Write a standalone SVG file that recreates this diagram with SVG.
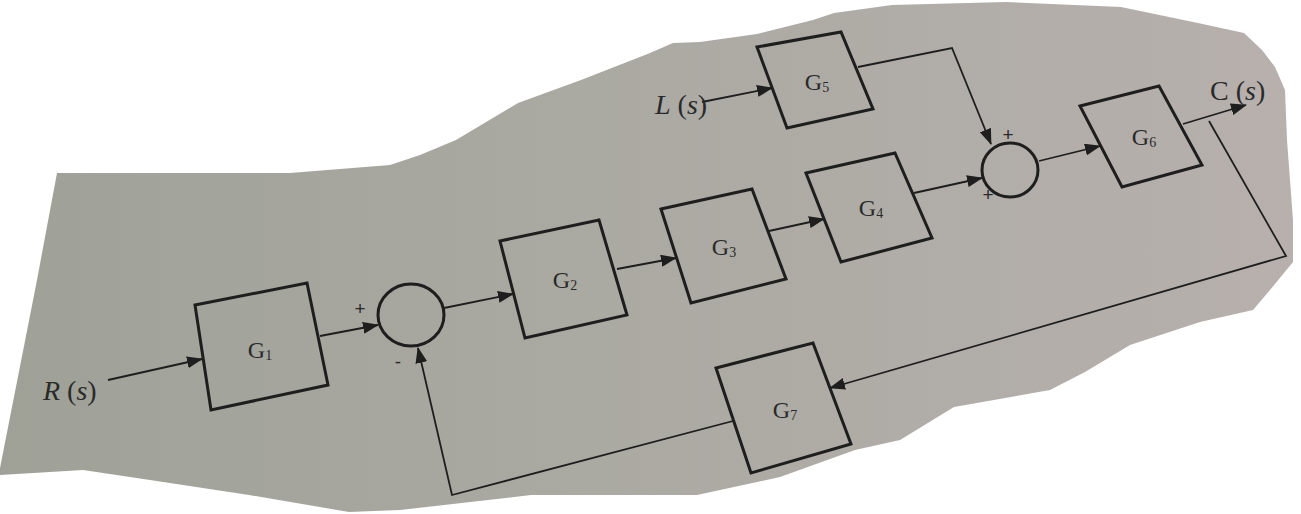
<svg xmlns="http://www.w3.org/2000/svg" width="1301" height="514" viewBox="0 0 1301 514">
<defs>
<linearGradient id="paper" x1="0" y1="0" x2="1" y2="0">
<stop offset="0" stop-color="#9fa197"/>
<stop offset="0.45" stop-color="#aaa9a2"/>
<stop offset="1" stop-color="#b7b0ad"/>
</linearGradient>
<marker id="arr" markerUnits="userSpaceOnUse" markerWidth="16" markerHeight="12" refX="15" refY="6" orient="auto">
<path d="M0,0 L16,6 L0,12 Z" fill="#1e1e1e"/>
</marker>
<style>
.box{fill:none;stroke:#1e1e1e;stroke-width:3;stroke-linejoin:miter}
.sum{fill:none;stroke:#1e1e1e;stroke-width:3}
.wire{fill:none;stroke:#1e1e1e;stroke-width:1.8}
.lbl{font-family:"Liberation Serif",serif;font-size:24px;fill:#2a2a2a;text-anchor:middle}
.sub{font-size:14px}
.sig{font-family:"Liberation Serif",serif;font-size:28px;fill:#2a2a2a}
.pm{font-family:"Liberation Sans",sans-serif;font-size:19px;fill:#2a2a2a;text-anchor:middle}
</style>
</defs>
<rect width="1301" height="514" fill="#ffffff"/>
<path id="paper-sheet" fill="url(#paper)" d="M57,173 L290,173 L390,165 L420,155 L456,140 L518,103 L581,80 L650,53 L673,43 L700,42 L757,34 L813,20 L834,13 L892,5 L1006,2 L1121,7 L1198,23 L1244,33 L1262,50 L1275,67 L1285,90 L1287,140 L1293,220 L1293,262 L1270,290 L1253,310 L1200,322 L1130,345 L1085,372 L1050,390 L954,407 L900,440 L855,450 L780,477 L697,495 L531,495 L400,510 L349,512 L249,495 L150,480 L83,470 L0,475 L0,468 L37,280 Z"/>

<g id="connectors">
<path class="wire" marker-end="url(#arr)" d="M108,380 L202,359"/>
<path class="wire" marker-end="url(#arr)" d="M320,336 L378,325"/>
<path class="wire" marker-end="url(#arr)" d="M444,308 L513,294"/>
<path class="wire" marker-end="url(#arr)" d="M617,269 L676,258"/>
<path class="wire" marker-end="url(#arr)" d="M769,231 L824,219"/>
<path class="wire" marker-end="url(#arr)" d="M914,193 L982,178"/>
<path class="wire" marker-end="url(#arr)" d="M702,102 L772,88"/>
<path class="wire" marker-end="url(#arr)" d="M858,67 L952,48 L991,144"/>
<path class="wire" marker-end="url(#arr)" d="M1039,161 L1100,146"/>
<path class="wire" marker-end="url(#arr)" d="M1183,124 L1246,105"/>
<path class="wire" marker-end="url(#arr)" d="M1209,121 L1286,256 L830,388"/>
<path class="wire" marker-end="url(#arr)" d="M733,421 L452,495 L418,348"/>
</g>

<g id="G1"><polygon class="box" points="195,305 307,283 328,385 211,410"/><text class="lbl" x="260" y="358">G<tspan class="sub" dy="2">1</tspan></text></g>
<g id="G2"><polygon class="box" points="500,241 599,220 627,315 525,338"/><text class="lbl" x="565" y="288">G<tspan class="sub" dy="2">2</tspan></text></g>
<g id="G3"><polygon class="box" points="661,209 752,189 786,279 691,303"/><text class="lbl" x="724" y="255">G<tspan class="sub" dy="2">3</tspan></text></g>
<g id="G4"><polygon class="box" points="806,173 895,153 932,238 841,262"/><text class="lbl" x="871" y="216">G<tspan class="sub" dy="2">4</tspan></text></g>
<g id="G5"><polygon class="box" points="757,47 841,32 873,109 787,128"/><text class="lbl" x="817" y="90">G<tspan class="sub" dy="2">5</tspan></text></g>
<g id="G6"><polygon class="box" points="1080,106 1159,86 1202,165 1122,187"/><text class="lbl" x="1144" y="145">G<tspan class="sub" dy="2">6</tspan></text></g>
<g id="G7"><polygon class="box" points="716,368 813,343 851,444 751,473"/><text class="lbl" x="785" y="418">G<tspan class="sub" dy="2">7</tspan></text></g>

<g id="sum1"><ellipse class="sum" cx="411" cy="315" rx="33" ry="31"/><text class="pm" x="360" y="315">+</text><text class="pm" x="398" y="368">-</text></g>
<g id="sum2"><ellipse class="sum" cx="1010" cy="170" rx="28" ry="27"/><text class="pm" x="1008" y="141">+</text><text class="pm" x="988" y="201">+</text></g>

<g id="R"><text class="sig" x="43" y="400"><tspan font-style="italic">R</tspan> (<tspan font-style="italic">s</tspan>)</text></g>
<g id="L"><text class="sig" x="655" y="114" font-size="22"><tspan font-style="italic">L</tspan> (<tspan font-style="italic">s</tspan>)</text></g>
<g id="C"><text class="sig" x="1210" y="100" font-size="22">C (<tspan font-style="italic">s</tspan>)</text></g>
</svg>
